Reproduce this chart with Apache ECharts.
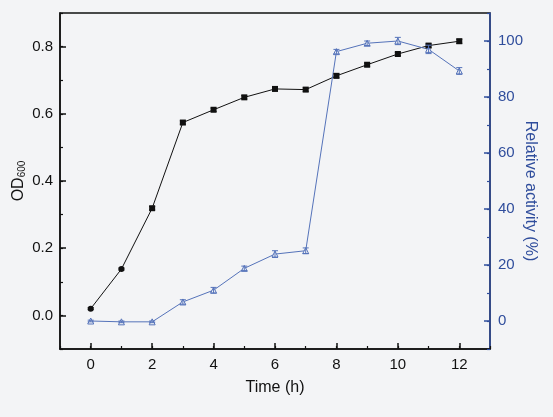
<!DOCTYPE html>
<html>
<head>
<meta charset="utf-8">
<script src="https://cdn.jsdelivr.net/npm/echarts@6/dist/echarts.min.js"></script>
<style>
    html, body { margin: 0; padding: 0; background: #f3f4f6; }
    #main { width: 553px; height: 417px; }
</style>
</head>
<body>
<div id="main"></div>
<script>
// data
var hours = [0, 1, 2, 3, 4, 5, 6, 7, 8, 9, 10, 11, 12];
var od600 = [0.02, 0.138, 0.319, 0.574, 0.612, 0.649, 0.674, 0.672, 0.713, 0.746, 0.778, 0.803, 0.816];
var odErr = [0.003, 0.003, 0.005, 0.005, 0.005, 0.005, 0.005, 0.005, 0.006, 0.005, 0.005, 0.005, 0.006];
var activity = [0, -0.3, -0.3, 6.8, 11, 18.8, 23.9, 25.1, 96.2, 99.2, 100, 97, 89.3];
var actErr = [0.3, 0.3, 0.3, 0.8, 1, 0.8, 1.2, 1, 0.8, 0.8, 1.3, 1.5, 1.2];

var xTicks = [0, 2, 4, 6, 8, 10, 12];
var odTicks = [0, 0.2, 0.4, 0.6, 0.8];
var actTicks = [0, 20, 40, 60, 80, 100];

var black = '#111';
var blue = '#2f4d9c';
var lineBlue = '#5573ba';

document.addEventListener('DOMContentLoaded', function() {
    var chart = echarts.init(document.getElementById('main'));

    function pairs(ys) {
        return hours.map(function(h, i) { return [h, ys[i]]; });
    }

    // error bars drawn with a custom series
    function errorSeries(ys, errs, yIdx, color) {
        var data = hours.map(function(h, i) { return [h, ys[i] - errs[i], ys[i] + errs[i]]; });
        return {
            type: 'custom',
            xAxisIndex: 0,
            yAxisIndex: yIdx,
            z: 4,
            data: data,
            renderItem: function(params, api) {
                var lo = api.coord([api.value(0), api.value(1)]);
                var hi = api.coord([api.value(0), api.value(2)]);
                var w = 3;
                var st = { stroke: color, lineWidth: 1 };
                return {
                    type: 'group',
                    children: [
                        { type: 'line', shape: { x1: lo[0], y1: lo[1], x2: hi[0], y2: hi[1] }, style: st },
                        { type: 'line', shape: { x1: lo[0] - w, y1: lo[1], x2: lo[0] + w, y2: lo[1] }, style: st },
                        { type: 'line', shape: { x1: hi[0] - w, y1: hi[1], x2: hi[0] + w, y2: hi[1] }, style: st }
                    ]
                };
            }
        };
    }

    var tickFont = { fontFamily: 'Liberation Sans', fontSize: 15 };

    var option = {
        backgroundColor: '#f3f4f6',
        animation: false,
        grid: {
            left: 60, right: 63, top: 13, bottom: 68,
            outerBoundsMode: 'none',
            containLabel: false,
            show: true, borderColor: black, borderWidth: 1.5,
            backgroundColor: 'transparent'
        },
        xAxis: [{
            type: 'value', min: -1, max: 13, interval: 1,
            axisLine: { onZero: false, lineStyle: { color: black, width: 1.5 } },
            axisTick: { inside: true, length: 3, lineStyle: { color: black, width: 1.2 } },
            axisLabel: Object.assign({ color: black, margin: 8, customValues: xTicks }, tickFont),
            splitLine: { show: false },
            name: 'Time (h)', nameLocation: 'middle', nameGap: 31, nameMoveOverlap: false,
            nameTextStyle: { color: black, fontFamily: 'Liberation Sans', fontSize: 16 }
        }, {
            type: 'value', min: -1, max: 13, position: 'bottom',
            axisLine: { show: false, onZero: false },
            axisTick: { inside: true, length: 6, customValues: xTicks, lineStyle: { color: black, width: 1.5 } },
            axisLabel: { show: false },
            splitLine: { show: false }
        }],
        yAxis: [{
            type: 'value', min: -0.1, max: 0.9, interval: 0.1, position: 'left',
            axisLine: { show: true, onZero: false, lineStyle: { color: black, width: 1.5 } },
            axisTick: { inside: true, length: 3, lineStyle: { color: black, width: 1.2 } },
            axisLabel: Object.assign({
                color: black, margin: 7, customValues: odTicks,
                formatter: function(v) { return v.toFixed(1); }
            }, tickFont),
            splitLine: { show: false },
            name: 'OD{s|600}', nameLocation: 'middle', nameGap: 33, nameRotate: 90, nameMoveOverlap: false,
            nameTextStyle: {
                color: black, fontFamily: 'Liberation Sans', fontSize: 16,
                rich: { s: { fontSize: 10, fontFamily: 'Liberation Sans', color: black, padding: [7, 0, 0, 0] } }
            }
        }, {
            type: 'value', min: -0.1, max: 0.9, position: 'left',
            axisLine: { show: false, onZero: false },
            axisTick: { show: true, inside: true, length: 6, customValues: odTicks, lineStyle: { color: black, width: 1.5 } },
            axisLabel: { show: false },
            splitLine: { show: false }
        }, {
            type: 'value', min: -10, max: 110, interval: 10, position: 'right',
            axisLine: { show: true, onZero: false, lineStyle: { color: blue, width: 1.5 } },
            axisTick: { inside: true, length: 3, lineStyle: { color: blue, width: 1.2 } },
            axisLabel: Object.assign({ color: blue, margin: 8, customValues: actTicks }, tickFont),
            splitLine: { show: false },
            name: 'Relative activity (%)', nameLocation: 'middle', nameGap: 32, nameRotate: -90, nameMoveOverlap: false,
            nameTextStyle: { color: blue, fontFamily: 'Liberation Sans', fontSize: 16, padding: [0, 0, 0, 20] }
        }, {
            type: 'value', min: -10, max: 110, position: 'right',
            axisLine: { show: false, onZero: false },
            axisTick: { show: true, inside: true, length: 6, customValues: actTicks, lineStyle: { color: blue, width: 1.5 } },
            axisLabel: { show: false },
            splitLine: { show: false }
        }],
        series: [{
            name: 'OD600',
            type: 'line',
            xAxisIndex: 0, yAxisIndex: 0,
            data: pairs(od600),
            symbol: function(v, p) { return p.dataIndex < 2 ? 'circle' : 'rect'; },
            symbolSize: 6,
            lineStyle: { color: black, width: 1 },
            itemStyle: { color: black },
            z: 3
        }, {
            name: 'Relative activity',
            type: 'line',
            xAxisIndex: 0, yAxisIndex: 2,
            data: pairs(activity),
            symbol: 'triangle',
            symbolSize: 6,
            lineStyle: { color: lineBlue, width: 1 },
            itemStyle: { color: '#f3f4f6', borderColor: lineBlue, borderWidth: 1 },
            z: 3
        },
        errorSeries(od600, odErr, 0, black),
        errorSeries(activity, actErr, 2, lineBlue)
        ]
    };

    chart.setOption(option);
});
</script>
</body>
</html>
